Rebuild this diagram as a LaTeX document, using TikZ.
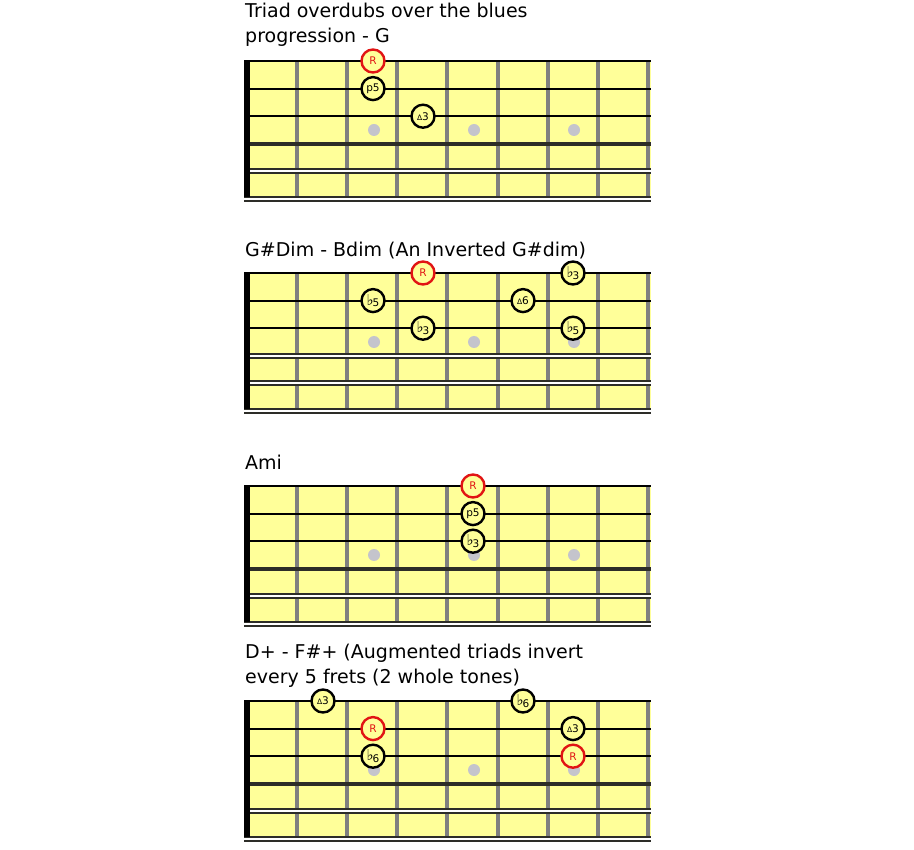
\documentclass[tikz,border=0pt]{standalone}
\usepackage{fontspec}
\setmainfont{DejaVu Sans}
\usepackage{tikz}
\definecolor{boardyellow}{RGB}{255,255,153}
\definecolor{fretgray}{RGB}{128,128,128}
\definecolor{inlaygray}{RGB}{196,196,204}
\definecolor{stringdark}{RGB}{45,45,40}
\definecolor{rootred}{RGB}{225,20,20}
\newcommand{\tri}{{\fontsize{7.5}{7.5}\selectfont Δ}}
\newcommand{\flt}{\raisebox{1.5pt}{\fontsize{15}{15}\selectfont ♭}\kern-1pt}
% one fretboard: #1 = y of top string, #2 = style of the 4th string
\newcommand{\fretboard}[2]{%
  \fill[boardyellow] (245,#1) rectangle (651,#1+138);
  \foreach \k in {1,...,8} \draw[fretline] (246.5+50.2*\k,#1) -- (246.5+50.2*\k,#1+138);
  \foreach \x in {374,474,574} \fill[inlaygray] (\x,#1+69) circle (6pt);
  \draw[plain] (244,#1) -- (651,#1);
  \draw[plain] (244,#1+27.6) -- (651,#1+27.6);
  \draw[plain] (244,#1+55.2) -- (651,#1+55.2);
  \draw[#2] (244,#1+82.8) -- (651,#1+82.8);
  \draw[wound] (244,#1+110.4) -- (651,#1+110.4);
  \draw[wound] (244,#1+138) -- (651,#1+138);
  \fill[black] (244,#1-1) rectangle (250,#1+136);
}
\begin{document}
\begin{tikzpicture}[x=1pt,y=-1pt,
  title/.style={anchor=base west,inner sep=0pt,font=\fontsize{19}{23}\selectfont},
  fretline/.style={draw=fretgray,line width=4pt},
  plain/.style={draw=black,line width=2pt},
  heavy/.style={draw=stringdark,line width=4pt},
  wound/.style={draw=stringdark,line width=2pt,double=white,double distance=2pt},
  note/.style={circle,draw=black,fill=boardyellow,line width=2.4pt,minimum size=23pt,inner sep=0pt,font=\fontsize{10.5}{10.5}\selectfont},
  root/.style={draw=rootred,text=rootred}]
\useasboundingbox (0,0) rectangle (914,850);

% G
\node (gTitleA) at (245,18)[title] {Triad overdubs over the blues};
\node (gTitleB) at (245,43)[title] {progression - G};
\fretboard{61}{heavy}
\node (gR) at (373,61)[note,root] {R};
\node (gP5) at (373,88.6)[note] {p5};
\node (gM3) at (423,116.2)[note] {\tri3};

% G#dim
\node (dimTitle) at (245,257)[title] {G\#Dim - Bdim (An Inverted G\#dim)};
\fretboard{273}{wound}
\node (dimR) at (423,273)[note,root] {R};
\node (dimA) at (573,273)[note] {\flt3};
\node (dimB) at (373,300.6)[note] {\flt5};
\node (dimC) at (523,300.6)[note] {\tri6};
\node (dimD) at (423,328.2)[note] {\flt3};
\node (dimE) at (573,328.2)[note] {\flt5};

% Ami
\node (amTitle) at (245,470)[title] {Ami};
\fretboard{486}{heavy}
\node (amR) at (473,486)[note,root] {R};
\node (amP5) at (473,513.6)[note] {p5};
\node (amM3) at (473,541.2)[note] {\flt3};

% D+
\node (augTitleA) at (245,658)[title] {D+ - F\#+ (Augmented triads invert};
\node (augTitleB) at (245,683)[title] {every 5 frets (2 whole tones)};
\fretboard{701}{heavy}
\node (augA) at (323,701)[note] {\tri3};
\node (augB) at (523,701)[note] {\flt6};
\node (augR) at (373,728.6)[note,root] {R};
\node (augC) at (573,728.6)[note] {\tri3};
\node (augD) at (373,756.2)[note] {\flt6};
\node (augS) at (573,756.2)[note,root] {R};
\end{tikzpicture}
\end{document}
